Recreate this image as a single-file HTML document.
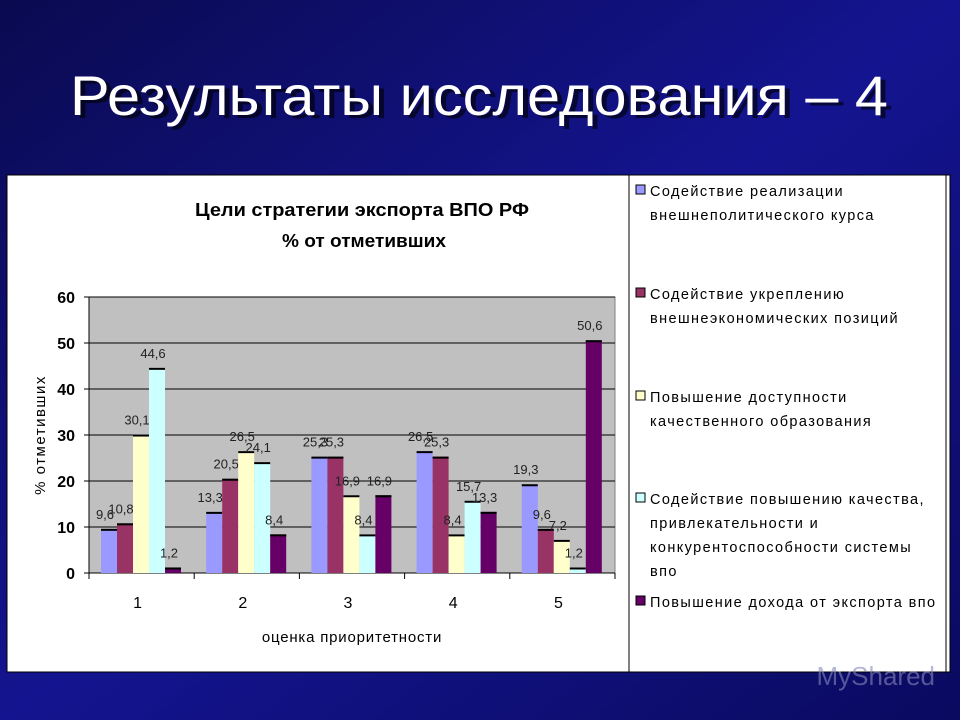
<!DOCTYPE html>
<html><head><meta charset="utf-8"><style>
html,body{margin:0;padding:0;width:960px;height:720px;overflow:hidden;background:#0c0c6e}
svg{display:block}
text{font-family:"Liberation Sans",sans-serif}
</style></head><body>
<svg width="960" height="720" viewBox="0 0 960 720">
<defs>
<linearGradient id="bg" x1="0" y1="0" x2="1" y2="1">
<stop offset="0" stop-color="#0a0a50"/><stop offset="0.5" stop-color="#141490"/><stop offset="1" stop-color="#0a0a60"/>
</linearGradient>
</defs>
<rect width="960" height="720" fill="url(#bg)"/>
<text x="72" y="115" font-size="56" fill="#000" opacity="0.6" textLength="818" lengthAdjust="spacingAndGlyphs" transform="translate(3,3)">Результаты исследования – 4</text>
<text x="70" y="115" font-size="56" fill="#fff" textLength="818" lengthAdjust="spacingAndGlyphs">Результаты исследования – 4</text>
<rect x="7" y="175" width="943" height="497" fill="#fff" stroke="#000"/>
<line x1="946" y1="175" x2="946" y2="672" stroke="#000"/>
<line x1="629" y1="175" x2="629" y2="672" stroke="#000"/>
<text x="362" y="216" font-size="18" font-weight="bold" text-anchor="middle" textLength="334" lengthAdjust="spacingAndGlyphs">Цели стратегии экспорта ВПО РФ</text>
<text x="364" y="247" font-size="18" font-weight="bold" text-anchor="middle" textLength="164" lengthAdjust="spacingAndGlyphs">% от отметивших</text>
<g id="plot"></g>
<text x="352" y="642" font-size="15" text-anchor="middle" letter-spacing="0.8">оценка приоритетности</text>
<text transform="translate(45,435) rotate(-90)" font-size="15" text-anchor="middle" letter-spacing="1.5">% отметивших</text>
<g id="legend"></g>
<text x="935" y="685" font-size="26" fill="#8888bb" opacity="0.6" text-anchor="end">MyShared</text>
</svg>
<script>
const categories=["1","2","3","4","5"];
const s1=[9.6,13.3,25.3,26.5,19.3];
const s2=[10.8,20.5,25.3,25.3,9.6];
const s3=[30.1,26.5,16.9,8.4,7.2];
const s4=[44.6,24.1,8.4,15.7,1.2];
const s5=[1.2,8.4,16.9,13.3,50.6];
const yTicks=[0,10,20,30,40,50,60];
const seriesNames=["Содействие реализации|внешнеполитического курса","Содействие укреплению|внешнеэкономических позиций","Повышение доступности|качественного образования","Содействие повышению качества,|привлекательности и|конкурентоспособности системы|впо","Повышение дохода от экспорта впо"];
const colors=["#9999ff","#993366","#ffffcc","#ccffff","#660066"];
const series=[s1,s2,s3,s4,s5];
const NS="http://www.w3.org/2000/svg";
const X0=89,X1=615,Y0=573,Y1=297;
const y=v=>Y0-(v/60)*(Y0-Y1);
const gw=(X1-X0)/categories.length;
const bw=16;
const x=(g,s)=>X0+g*gw+12+s*bw;
function mk(tag,attrs,parent){const e=document.createElementNS(NS,tag);for(const k in attrs)e.setAttribute(k,attrs[k]);parent.appendChild(e);return e;}
const plot=document.getElementById('plot');
const bgr=mk('rect',{x:X0,y:Y1,width:X1-X0,height:Y0-Y1,fill:'#c0c0c0',stroke:'#808080'},plot);


yTicks.forEach(t=>{
  if(t>0){const gl=mk('line',{x1:X0,x2:X1,y1:y(t),y2:y(t),stroke:'#000','stroke-width':1},plot);
  
  }
  mk('line',{x1:X0-5,x2:X0,y1:y(t),y2:y(t),stroke:'#000'},plot);
  const tl=mk('text',{x:X0-14,y:y(t)+6,'font-size':16,'font-weight':'bold','text-anchor':'end'},plot);
  tl.textContent=t;
  
  
});
mk('line',{x1:X0,x2:X0,y1:Y1,y2:Y0,stroke:'#000'},plot);
mk('line',{x1:X0,x2:X1,y1:Y0,y2:Y0,stroke:'#000'},plot);
categories.forEach((c,g)=>{
  mk('line',{x1:X0+g*gw,x2:X0+g*gw,y1:Y0,y2:Y0+6,stroke:'#000'},plot);
  const cl=mk('text',{x:X0+g*gw+gw/2-4,y:608,'font-size':16,'text-anchor':'middle'},plot);
  cl.textContent=c;
  
  
  series.forEach((s,i)=>{
    const v=s[g];
    const r=mk('rect',{x:x(g,i),y:y(v),width:bw,height:Y0-y(v),fill:colors[i]},plot);
    
    
    mk('line',{x1:x(g,i),x2:x(g,i)+bw,y1:y(v)+1,y2:y(v)+1,stroke:'#000','stroke-width':2},plot);
    const lb=mk('text',{x:x(g,i)+bw/2-4,y:y(v)-10,'font-size':13,'text-anchor':'middle',fill:'#222'},plot);
    lb.textContent=String(v).replace('.',',');
    
    
  });
});
mk('line',{x1:X1,x2:X1,y1:Y0,y2:Y0+6,stroke:'#000'},plot);
const legend=document.getElementById('legend');
const ly=[192,295,398,500,603];
seriesNames.forEach((n,i)=>{
  const g=mk('g',{},legend);
  
  
  mk('rect',{x:636,y:ly[i]-7,width:9,height:9,fill:colors[i],stroke:'#000'},g);
  n.split('|').forEach((line,j)=>{
    const t=mk('text',{x:650,y:ly[i]+4+j*24,'font-size':14.5,'letter-spacing':'1.4'},g);
    t.textContent=line;
  });
});
</script>
</body></html>
